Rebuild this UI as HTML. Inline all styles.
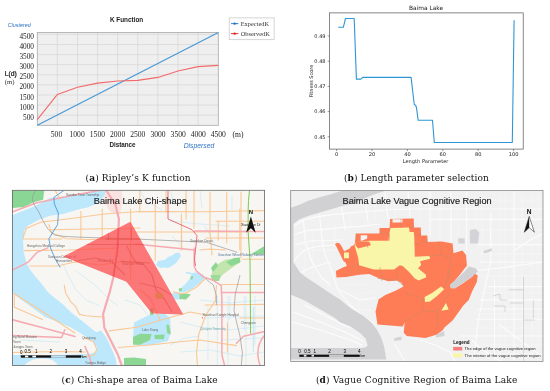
<!DOCTYPE html>
<html><head><meta charset="utf-8">
<style>
html,body{margin:0;padding:0;background:#fff;}
body{width:550px;height:391px;position:relative;overflow:hidden;}
.cap{position:absolute;font-family:"DejaVu Serif","Liberation Serif",serif;font-size:9px;color:#111;white-space:nowrap;line-height:1;}
.cap b{font-weight:bold;}
svg{position:absolute;left:0;top:0;}
</style></head><body>

<!-- Panel (a): K function chart -->
<svg width="550" height="391" viewBox="0 0 550 391" style="left:0;top:0">
  <!-- plot background -->
  <rect x="37.3" y="32.4" width="181" height="92.9" fill="#efefef"/>
  <g stroke="#d3d3d3" stroke-width="0.65">
    <line x1="57.4" y1="32.4" x2="57.4" y2="125.3"/>
    <line x1="77.5" y1="32.4" x2="77.5" y2="125.3"/>
    <line x1="97.6" y1="32.4" x2="97.6" y2="125.3"/>
    <line x1="117.7" y1="32.4" x2="117.7" y2="125.3"/>
    <line x1="137.8" y1="32.4" x2="137.8" y2="125.3"/>
    <line x1="157.9" y1="32.4" x2="157.9" y2="125.3"/>
    <line x1="178" y1="32.4" x2="178" y2="125.3"/>
    <line x1="198.1" y1="32.4" x2="198.1" y2="125.3"/>
    <line x1="37.3" y1="115.2" x2="218.3" y2="115.2"/>
    <line x1="37.3" y1="105.1" x2="218.3" y2="105.1"/>
    <line x1="37.3" y1="95" x2="218.3" y2="95"/>
    <line x1="37.3" y1="84.9" x2="218.3" y2="84.9"/>
    <line x1="37.3" y1="74.8" x2="218.3" y2="74.8"/>
    <line x1="37.3" y1="64.7" x2="218.3" y2="64.7"/>
    <line x1="37.3" y1="54.6" x2="218.3" y2="54.6"/>
    <line x1="37.3" y1="44.5" x2="218.3" y2="44.5"/>
    <line x1="37.3" y1="34.4" x2="218.3" y2="34.4"/>
  </g>
  <rect x="37.3" y="32.4" width="181" height="92.9" fill="none" stroke="#a8a8a8" stroke-width="0.8"/>
  <polyline points="37.3,125.3 218.3,32.4" fill="none" stroke="#4597d5" stroke-width="1.1"/>
  <polyline points="37.3,119.6 57.4,94.4 77.5,87.3 97.6,83.1 117.7,81 137.8,80.4 157.9,77.4 178,71 198.1,66.6 218.3,65.4" fill="none" stroke="#f26a6a" stroke-width="1.1" stroke-linejoin="round"/>
  <!-- y labels -->
  <g font-family="Liberation Serif, serif" font-size="7.3" fill="#222" text-anchor="end">
    <text x="34" y="38.9">4500</text>
    <text x="34" y="49.0">4000</text>
    <text x="34" y="59.1">3500</text>
    <text x="34" y="69.2">3000</text>
    <text x="34" y="79.3">2500</text>
    <text x="34" y="89.4">2000</text>
    <text x="34" y="99.5">1500</text>
    <text x="34" y="109.6">1000</text>
    <text x="34" y="119.7">500</text>
  </g>
  <g font-family="Liberation Serif, serif" font-size="7.6" fill="#222" text-anchor="middle">
    <text x="56.5" y="136.8">500</text>
    <text x="77.1" y="136.8">1000</text>
    <text x="97.4" y="136.8">1500</text>
    <text x="117.6" y="136.8">2000</text>
    <text x="137.8" y="136.8">2500</text>
    <text x="158" y="136.8">3000</text>
    <text x="178.2" y="136.8">3500</text>
    <text x="198.3" y="136.8">4000</text>
    <text x="218.3" y="136.8">4500</text>
    <text x="238" y="136.8">(m)</text>
  </g>
  <text x="4.8" y="76.4" font-family="Liberation Sans, sans-serif" font-size="6.8" fill="#111" stroke="#111" stroke-width="0.2">L(d)</text>
  <text x="4.8" y="84" font-family="Liberation Serif, serif" font-size="6.8" fill="#333">(m)</text>
  <text x="126.6" y="21.8" font-family="Liberation Sans, sans-serif" font-size="6.4" font-weight="bold" fill="#222" text-anchor="middle">K Function</text>
  <text x="7.7" y="26.6" font-family="Liberation Sans, sans-serif" font-size="5.4" font-style="italic" fill="#2f73c4">Clustered</text>
  <text x="122.5" y="147.3" font-family="Liberation Sans, sans-serif" font-size="6.3" font-weight="bold" fill="#222" text-anchor="middle">Distance</text>
  <text x="199" y="148" font-family="Liberation Sans, sans-serif" font-size="6.8" font-style="italic" fill="#2f73c4" text-anchor="middle">Dispersed</text>
  <!-- legend -->
  <rect x="229.2" y="17.9" width="44.9" height="21.8" fill="#fff" stroke="#c4c4c4" stroke-width="0.7"/>
  <line x1="231" y1="23.6" x2="238.4" y2="23.6" stroke="#3d8fd1" stroke-width="1.1"/>
  <circle cx="234.7" cy="23.6" r="1.2" fill="#1f6fc0"/>
  <line x1="231" y1="33.6" x2="238.4" y2="33.6" stroke="#f04040" stroke-width="1.1"/>
  <circle cx="234.7" cy="33.6" r="1.2" fill="#e02020"/>
  <text x="240.7" y="25.9" font-family="Liberation Serif, serif" font-size="6.4" fill="#333">ExpectedK</text>
  <text x="240.7" y="35.9" font-family="Liberation Serif, serif" font-size="6.4" fill="#333">ObservedK</text>

  <!-- Panel (b) -->
  <text x="426" y="9.8" font-family="DejaVu Sans, sans-serif" font-size="5.9" fill="#222" text-anchor="middle">Baima Lake</text>
  <polyline points="338.2,27.3 343.3,27.3 345.5,18.5 354.2,18.5 356.4,79.1 360.9,79.1 362.7,77.3 411.1,77.4 413.5,98 414.3,104.5 415.8,105.5 416.5,108 418.2,120.3 432.5,120.3 434.3,142.5 512.3,142.5 514.1,20.3" fill="none" stroke="#2f96d4" stroke-width="1.1" stroke-linejoin="round"/>
  <rect x="329.6" y="12.9" width="193.6" height="136.2" fill="none" stroke="#555" stroke-width="0.7"/>
  <g stroke="#555" stroke-width="0.6">
    <line x1="327.6" y1="36" x2="329.6" y2="36"/>
    <line x1="327.6" y1="61.2" x2="329.6" y2="61.2"/>
    <line x1="327.6" y1="86.4" x2="329.6" y2="86.4"/>
    <line x1="327.6" y1="111.6" x2="329.6" y2="111.6"/>
    <line x1="327.6" y1="136.8" x2="329.6" y2="136.8"/>
    <line x1="336.6" y1="149.1" x2="336.6" y2="151.1"/>
    <line x1="372" y1="149.1" x2="372" y2="151.1"/>
    <line x1="407.4" y1="149.1" x2="407.4" y2="151.1"/>
    <line x1="442.8" y1="149.1" x2="442.8" y2="151.1"/>
    <line x1="478.2" y1="149.1" x2="478.2" y2="151.1"/>
    <line x1="513.6" y1="149.1" x2="513.6" y2="151.1"/>
  </g>
  <g font-family="DejaVu Sans, sans-serif" font-size="5" fill="#222" text-anchor="end">
    <text x="325.5" y="37.8">0.49</text>
    <text x="325.5" y="63">0.48</text>
    <text x="325.5" y="88.2">0.47</text>
    <text x="325.5" y="113.4">0.46</text>
    <text x="325.5" y="138.6">0.45</text>
  </g>
  <g font-family="DejaVu Sans, sans-serif" font-size="5.1" fill="#222" text-anchor="middle">
    <text x="336.6" y="155.9">0</text>
    <text x="372" y="155.9">20</text>
    <text x="407.4" y="155.9">40</text>
    <text x="442.8" y="155.9">60</text>
    <text x="478.2" y="155.9">80</text>
    <text x="513.6" y="155.9">100</text>
    <text x="425.6" y="163.3">Length Parameter</text>
  </g>
  <text transform="translate(312.8 81.1) rotate(-90)" font-family="DejaVu Sans, sans-serif" font-size="5" fill="#222" text-anchor="middle">Fitness Score</text>
</svg>

<div class="cap" style="left:85.6px;top:173.7px;letter-spacing:0.13px">(<b>a</b>) Ripley’s K function</div>
<div class="cap" style="left:344px;top:173.7px;letter-spacing:0.06px">(<b>b</b>) Length parameter selection</div>
<div class="cap" style="left:61.6px;top:375.8px;letter-spacing:0.12px">(<b>c</b>) Chi-shape area of Baima Lake</div>
<div class="cap" style="left:315.9px;top:375.8px;letter-spacing:0.2px">(<b>d</b>) Vague Cognitive Region of Baima Lake</div>

<!-- MAP C -->
<svg id="mapc" width="550" height="391" viewBox="0 0 550 391">
  <defs><clipPath id="cc"><rect x="12" y="190.4" width="252.6" height="175"/></clipPath></defs>
  <g clip-path="url(#cc)">
    <rect x="12" y="190" width="253" height="176" fill="#f7f6f2"/>
    <!-- green top-left -->
    <path d="M12,190 L44.3,190 L43.1,199.8 L33.6,202.2 L24.2,206.9 L12,208 Z" fill="#8ad694"/>
    <!-- thin water channels (light blue) -->
    <g fill="none" stroke="#c8e9f8" stroke-width="0.7">
      <path d="M62,262 L68,275 L76,290 L86,300 L100,306"/>
      <path d="M75,270 L95,285 L110,300 L118,306"/>
      <path d="M150,203 L162,210"/>
      <path d="M170,221 L200,224 L230,226"/>
      <path d="M200,300 L230,303 L264,300"/>
      <path d="M180,322 L200,327 L230,330 L264,326"/>
      <path d="M118,255 L132,270 L140,285 L148,300"/>
      <path d="M25,300 L60,314"/>
      <path d="M20,340 L60,342"/>
      <path d="M205,226 L215,245"/>
      <path d="M180,352 L210,350 L240,356 L264,352"/>
      <path d="M172,236 L185,250"/>
      <path d="M125,300 L140,305 L150,318"/>
      <path d="M170,345 L185,338 L200,336"/>
      <path d="M246,296 L246,367 M255,296 L255,345 M228,296 L228,367 M208,306 L208,360"/>
      <path d="M140,190 L145,200 M170,190 L175,205 M200,190 L202,208 M232,195 L232,210"/>
      <path d="M253.4,307 L253.4,352" stroke-width="1.3"/>
      <path d="M217.4,296 L217.4,366 M229.8,296 L229.8,320 M244.4,296 L244.4,330 M205,318 L264,316 M222,340 L264,338"/>
    </g>
    <!-- lakes -->
    <path d="M158,261 L164.5,260 L168,257 L172,255.5 L176,252.7 L179.5,252.7 L181,256 L178,260 L176,263 L172,266 L168,268 L164,267.5 L160,268 L156,265 Z" fill="#bde7fb"/>
    <path d="M192,273 L196,272.5 L203,274.5 L204.1,278.5 L198.6,284 L192,289 L185.4,291.7 L180.5,292.8 L179.4,289.5 L181,287.9 L185.4,284 L189.8,278.5 Z" fill="#bde7fb"/><path d="M172,293 L180,292.5 L181,299.4 L174,299.4 Z" fill="#bde7fb"/><path d="M185.4,271.4 L192,273 L191,274.5 L186,273.5 Z" fill="#bde7fb"/>
    
    <path d="M134,322.6 L145,317 L151.6,314.3 L164.5,313.4 L170,318 L171,331.8 L168,341 L150,345 L136.8,345.5 L133.1,337.4 Z" fill="#bde7fb"/>
    <!-- green parks -->
    <path d="M211.2,276 L213.6,266.6 L225.5,259.4 L239.8,258.2 L241,261.8 L230.2,269 L216,279.9 Z" fill="#c2e6ad"/>
    <path d="M226,262 L234,258 L240,257.5 L240,262.5 L231,266 Z" fill="#8cd793"/>
    <path d="M211,268 L216,262 L218,266 L213,272 Z" fill="#8cd793"/>
    <path d="M179.4,294 L186,293.4 L190.9,294.5 L186,299.4 L179.6,299 Z" fill="#8cd793"/><path d="M178.8,288.5 L182,288 L181.5,291.5 L178.8,291 Z" fill="#8cd793"/><path d="M190.9,276.3 L193.1,276 L192.5,279.6 L190.6,279.6 Z" fill="#8cd793"/>
    <path d="M210.6,275 L221.2,275 L219,281 L212,281 Z" fill="#9fda98"/>
    <path d="M133,337 L140,333.7 L151.6,334 L150,340 L140,344.7 L133,344.7 Z" fill="#8cd793"/>
    <path d="M154.3,335 L164.5,334.6 L164,339.2 L155,339 Z" fill="#8cd793"/>
    <path d="M166.3,324.5 L169,325 L170.9,334.6 L167,333 Z" fill="#8cd793"/>
    <path d="M124,358 L134,357.6 L146,359 L146,367 L124,367 Z" fill="#8cd793"/>
    
    <path d="M250,254.5 L258,250 L264.4,246 L264.4,254.5 Z" fill="#8cd793"/>
    <path d="M149.7,309 L153.4,308 L153,315.3 L150,315 Z" fill="#8cd793"/>
    <!-- river -->
    <path d="M12,215.2 L24.2,210.5 L36,205.7 L50,198 L62.7,196.5 L75.4,194.2 L88.2,192.6 L104.7,190.6 L106,190 L110,190 L107,193 L103,197.5 L99,201.5 L94.5,204.8 L87.3,207.6 L80,209.1 L62.7,214.1 L50,215.8 L38.4,219.9 L27.7,225.8 L24.5,230 L23.1,240.7 L23.6,251.5 L26.3,262.2 L29.9,269.4 L35.3,276.5 L41,283 L46.5,290.5 L51.4,295.2 L57.8,300.3 L64.2,305.5 L70.6,311.9 L77,317 L83.4,322.1 L89.8,327.2 L96.2,332.3 L101,330.5 L106,337 L111.2,347.9 L115.6,358.1 L117,367 L12,367 L12,355 L52,355 L90,354 L96,352 L97,347 L92,341 L83.4,335 L78.2,331.7 L70.6,327.2 L57.8,322.1 L45,317 L30,306 L13.5,294 L12,293 Z" fill="#bde7fb"/>
    <path d="M24,366 C28,360 36,358.5 45,358.6 C52,358.8 56,362 58,366 Z" fill="#f7f6f2"/>
    <path d="M106,190 L122,190 L122.2,203.5 L120,214.7 L110,212 L106,205 L104,197 Z" fill="#f9e3e1"/>
    <!-- orange roads -->
    <g fill="none" stroke="#f9c896" stroke-width="1.1" stroke-linecap="round" stroke-linejoin="round">
      <path d="M23,237.6 L26.5,228.2 L40.7,222.3 L69,218.7 L104.6,214 L140,211.5 L205,211.8 L266,210.6"/>
      <path d="M49,224.6 L51.4,233 L66.7,238.8 L88,239.5 L140,238.8"/>
      <path d="M51.4,229.7 L88,229 L120,228.5 L140,228"/>
      <path d="M23,239 L62,239"/>
      <path d="M24.2,250.6 L69,250 L95,249 L117,248"/>
      <path d="M80.9,211.6 L80.9,238.8"/>
      <path d="M102.2,209 L102.2,239"/>
      <path d="M130.6,209 L130.6,280"/>
      <path d="M139.8,190 L139.8,212"/>
      <path d="M166,190 L166,212"/>
      <path d="M181.6,219 L181.6,248"/>
      <path d="M210,192 L210,232 L212,255"/>
      <path d="M226.7,192 L226.7,243"/>
      <path d="M241,192 L241,258"/>
      <path d="M135,232 L244.5,232"/>
      <path d="M216,221.3 L266,221.3"/>
      <path d="M30,266 L57,266 L75,262"/>
      <path d="M64.2,285 L65.5,292.7 L70.6,301.6 L75.7,306.7 L79.5,314.4 L85.9,315.7 L102.5,317"/>
      <path d="M75,262 L100,265 L120,262 L140,262"/>
      <path d="M109.2,330.9 L136.8,327.2 L164.5,319 L190,312 L205.9,315"/>
      <path d="M118.4,347.5 L150,345 L177.3,342 L200,340 L236.5,345.6"/>
      <path d="M216.5,285.6 L215.3,300.9 L205.9,315 L198.8,333.8 L196.5,352.6 L197.6,367"/>
      <path d="M205,305 L266,304.4"/>
      <path d="M227.5,323 L227.5,352"/>
      <path d="M85,337.7 L93.7,342 L96.7,349.4 L93.7,355.2 L85,356.6"/>
      <path d="M12,352.5 L60,351.5 L85,352"/>
      <path d="M14.3,293.8 L14.3,307.3 L42.4,319.6"/><path d="M14.3,293.8 L40,310 L75,333"/>
      
      <path d="M55,190 L60,199"/>
      <path d="M140,290 L150,298 L160,320"/>
      <path d="M240,318 L266,318"/>
      <path d="M242.7,259.2 L266,259.2"/>
      <path d="M206,238 L266,238"/>
      <path d="M155.2,202 L155.2,260"/>
      <path d="M181.4,214 L181.4,250"/>
      <path d="M218.3,221 L218.3,240"/>
      <path d="M239.8,209 L239.8,250"/>
      <path d="M221.9,284.5 L266,284.5"/>
      <path d="M200,250 L210,249 L225,250"/>
      <path d="M194,190 L194,228"/>
      <path d="M186.1,190 L186.1,219"/>
      <path d="M173.3,291.7 L181,293.9 L186.5,292.8 L196.4,287.3 L205.2,278.5"/>
    </g>
    <!-- pink major roads -->
    <g fill="none" stroke="#f6aab2" stroke-width="1.5" stroke-linecap="round" stroke-linejoin="round">
      <path d="M12,212 L24.2,207.5 L36,203 L57.3,198.5 L80.9,193.8 L105,189.5"/>
      
      
      <path d="M194.5,230.9 L266,231.5"/>
      <path d="M194.2,248 L194.2,266.5 L196.5,271.1 L204.2,277.3 L213.4,280.3 L221.2,285.6 L221.9,300 L221.9,355 L225,367"/>
      <path d="M221.9,292.6 L266,292.6"/>
      <path d="M12,270.3 L28.1,262.2 L37,252.4 L47.8,247.9"/>
      <path d="M12,319.6 L40,327 L75,336.5"/>
      <path d="M12,335.4 L61.5,337.6 L64.9,329.8"/>
      
      <path d="M85,346.4 L89.4,356.6 L92.3,367"/>
      <path d="M106,190 L115.5,205 L118.9,219 L117.7,246 L113.2,278 L109.9,291.5 L106.5,302.8 L103.1,314 L104.3,327.5 L111,341 L117.8,354.5 L122.3,367" stroke-width="2.2"/>
      <path d="M236.5,343.2 L243.5,336.2 L264.7,331.5"/>
      <path d="M264,336 C259,342 257.5,350 258,356 C258.5,361 259.5,364 260.5,367"/>
      <path d="M135,244 L194.5,249.9"/>
      
    </g>
    <!-- rail -->
    <path d="M35.4,190.4 L32.2,197.5 L33.8,203.9 L38.6,211.8 L43.3,221.3 L48.1,229.3 L54.4,234.8 L64,236.4 L80,237.2 L140,239.2 L206.4,242.3 L230,250 L237.4,252.3" fill="none" stroke="#9a9a9a" stroke-width="0.7"/>
    <path d="M205.7,278.8 L213.4,285 L216.4,295.7 L216.4,305" fill="none" stroke="#9a9a9a" stroke-width="0.7"/>
    <path d="M240,275 L235.3,293.8 L234,310.3 L236.5,322 L240,336.2 L242.4,352.6 L241.2,367" fill="none" stroke="#9a9a9a" stroke-width="0.7"/>
    <!-- metro lines -->
    <path d="M168,190 L168,219 L192,229.7 L197,235.6 L194.5,259.4 L195.5,266" fill="none" stroke="#e5505e" stroke-width="0.8"/>
    <path d="M249.5,190 C247.5,205 248.5,215 248,230 L250,260 L250.6,333.8" fill="none" stroke="#7cc850" stroke-width="1"/>
    <path d="M64,190.4 L53.7,197.5 L54.4,203.9 L58.4,213.4 L57.6,224.5 L48.9,238.8 L50.5,247.9 L55,258.6 L60.3,267.6" fill="none" stroke="#3b8fd6" stroke-width="0.8"/>
    <!-- small labels -->
    <g font-family="Liberation Sans, sans-serif" font-size="3.2" fill="#666">
      <text x="66" y="195.5">Sandun Town Township</text>
      <text x="27" y="247">Hangzhou Medical College</text>
      <text x="48" y="258">Xianjuan College of</text>
      <text x="56" y="262">Humanities</text>
      <text x="202.4" y="315.5">Xiaoshan Kangle Hospital</text>
      <text x="200" y="330.3" fill="#7aa">Qiaoyan Township</text>
      <text x="240.7" y="323.7">Chengnan</text>
      <text x="218" y="256" fill="#56739a">Xiaoshan Wharf Railway Station</text>
      <text x="13" y="338">ng Build Shaoxin</text>
      <text x="13" y="343">Town</text>
      <text x="13" y="348">Jiangpu Town</text>
      <text x="82" y="339">Qianjiang</text>
      <text x="85" y="364">Yuanpu Bridge</text>
      <text x="142" y="331">Lake Xiang</text>
      <text x="190" y="241.5">Xiaoshan Daoju</text>
      <text x="97.6" y="261.8">Shuibei Rd</text>
      <text x="121.8" y="265">Xiaoshan Road</text>
    </g>
    <!-- red chi-shape polygon -->
    <path d="M63.2,256.6 L130.4,221.7 L183.3,314.5 L152,313.5 L126.4,281.8 Z" fill="#fe4c4d" fill-opacity="0.75"/>
    <clipPath id="cpoly"><path d="M63.2,256.6 L130.4,221.7 L183.3,314.5 L152,313.5 L126.4,281.8 Z"/></clipPath>
    <g clip-path="url(#cpoly)" fill="none" stroke="#e04848" stroke-opacity="0.45" stroke-width="1.2" stroke-linejoin="round">
      <path d="M118.4,220 L117.6,250.7 L113,280"/>
      <path d="M60,244.5 L150,244.5"/>
      <path d="M105.3,239.2 L140.6,239.2"/>
      <path d="M126.8,246 L131.4,255.3 L136,263 L143.7,264.5 L152,275 L156,290 L165,300 L172,312"/>
      <path d="M120.7,261.4 L150,263"/>
      <path d="M108.4,230.7 L108.4,240 M131.4,228 L131.4,240"/>
      <path d="M70,262 L95,258 L112,262 L125,275"/>
      <path d="M140,283 L160,288 L180,300"/>
    </g>
    <ellipse cx="159.2" cy="295.8" rx="4" ry="3.3" fill="#e47a4e" opacity="0.95"/>
    
    <circle cx="202.4" cy="317.8" r="0.6" fill="#e33"/>
    <!-- title -->
    <text x="93.8" y="203.8" font-family="Liberation Sans, sans-serif" font-size="9.2" fill="#1a1a1a" stroke="#1a1a1a" stroke-width="0.15">Baima Lake Chi-shape</text>
    <!-- north arrow -->
    <text x="250.9" y="214.3" font-family="Liberation Sans, sans-serif" font-size="6" font-weight="bold" fill="#111" text-anchor="middle">N</text>
    <path d="M250.9,216.5 L246.1,232.7 L250.9,228.2 L255.7,232.7 Z" fill="#111"/>
    <text x="241" y="226" font-family="Liberation Sans, sans-serif" font-size="3.6" fill="#222">Xiaoshan Di</text>
    <!-- scale bar -->
    <g font-family="Liberation Sans, sans-serif" font-size="4.5" fill="#000">
      <text x="20.1" y="353.5">0</text><text x="24.5" y="353.3">0.5</text><text x="34.9" y="353.3">1</text>
      <text x="49.4" y="353.3">2</text><text x="64.7" y="353.3">3</text><text x="79.3" y="353.3">4</text>
      <text x="81.8" y="357.8" font-size="3.6">km</text>
    </g>
    <rect x="21" y="355.5" width="60.1" height="2" fill="#fff" stroke="#111" stroke-width="0.4"/>
    <rect x="21" y="355.5" width="4" height="2" fill="#111"/>
    <rect x="28.3" y="355.5" width="4" height="2" fill="#111"/>
    <rect x="36" y="355.5" width="15.3" height="2" fill="#111"/>
    <rect x="51.3" y="355.5" width="14.5" height="2" fill="#bde7fb"/>
    <rect x="65.8" y="355.5" width="15.3" height="2" fill="#111"/>
  </g>
  <rect x="12.4" y="190.3" width="252.2" height="175.1" fill="none" stroke="#666" stroke-width="0.8"/>
</svg>

<!-- MAP D -->
<svg id="mapd" width="550" height="391" viewBox="0 0 550 391">
  <defs><clipPath id="cd"><rect x="290.7" y="190.4" width="252.3" height="171"/></clipPath></defs>
  <g clip-path="url(#cd)">
    <rect x="290" y="190" width="254" height="172" fill="#f1f1f1"/>
    <!-- white road network -->
    <g fill="none" stroke="#fcfcfc" stroke-width="1.1" stroke-linecap="round" stroke-linejoin="round">
      <path d="M295.1,225.3 L303.3,220.2 L317.6,216.6 L331.9,214.6 L361,212 L390,209.5 L420,209 L543,209"/>
      <path d="M295.1,234.5 L307.4,230.4 L323.7,229.4 L342.1,227.4 L361,226.4 L380,224"/>
      <path d="M295.1,244.8 L311.4,240.7 L327.8,240.7 L342.1,239.7"/>
      <path d="M293,262.1 L300,254 L307.4,248.9 L320,246 L336,245"/>
      <path d="M319.6,215 L321,230 L323.7,250.9 L331.9,271.3 L338,290 L350,305 L365,318 L375,324"/>
      <path d="M303.3,220.2 L305.3,240.7 L311.4,261.1 L321.7,277.5 L330,285"/>
      <path d="M296,275 L310,268 L330,262"/>
      <path d="M340,200 L343,215 L345,230"/>
      <path d="M365,199 L368,222"/>
      <path d="M385,193 L388,219"/>
      <path d="M408,190 L410,218"/>
      <path d="M451,190 L451,241"/>
      <path d="M466.7,190 L466.7,250"/>
      <path d="M490.8,213 L490.8,262 L486.4,280.4 L482.3,300.9 L478.2,321.3 L476.1,340 L474,361"/>
      <path d="M494.5,280 L494.5,361"/>
      <path d="M514,190 L514,361"/>
      <path d="M430,219.4 L543,219.4"/>
      <path d="M478,244.6 L543,244.6"/>
      <path d="M480,262 L543,262"/>
      <path d="M488,286.6 L543,286.6"/>
      <path d="M480,299.9 L543,299.9"/>
      <path d="M478,309 L543,309"/>
      <path d="M476,319.3 L543,319.3"/>
      <path d="M460,336 L543,336"/>
      <path d="M472,271 L500,268 L543,262"/>
      <path d="M472,340 L480,348 L500,361"/>
      <path d="M420,340 L435,345 L450,352 L455,361"/>
      <path d="M395,345 L405,361"/>
      <path d="M340,290 L360,300 L375,298"/>
      <path d="M292.3,311.8 L320,322 L345,332 L363.2,341.3"/>
      <path d="M292.3,322 L320,330 L350,340 L362,345"/>
      <path d="M305,305 L330,318 L350,328"/>
      <path d="M515,250 L530,240 L545,233"/>
      <path d="M500,325 L520,340 L540,355"/>
    </g>
    <g fill="none" stroke="#f8f8f8" stroke-width="0.5">
      <path d="M300,250 L340,250 M305,235 L305,270 M313,230 L313,275 M335,222 L335,250 M350,215 L350,233 M375,205 L375,222 M395,203 L395,218 M420,200 L420,227 M440,195 L440,241 M458,195 L458,236 M476,195 L476,228 M482,195 L482,262 M500,195 L500,361 M505,195 L505,361 M522,195 L522,361 M532,195 L532,361 M538,195 L538,361 M480,230 L543,230 M480,254 L543,254 M480,276 L543,276 M480,293 L543,293 M476,314 L543,314 M468,328 L543,328 M450,345 L543,345 M460,354 L543,354 M430,200 L543,200 M345,285 L372,285 M350,295 L375,292 M352,310 L372,310 M340,300 L345,320 M358,300 L360,322"/>
    </g>
    <path d="M523.5,276.7 L523.5,361 M533.3,300.6 L533.3,318 M509,289.8 L523.5,289.8 M493,296 L500,294 L500,300 L507,300 M494,306 L505,306 L505,312 M510,303 L523.5,303 M523.5,320 L535,320" fill="none" stroke="#c9c9cd" stroke-width="0.7"/>
    <path d="M430,190 L430,236" fill="none" stroke="#fcfcfc" stroke-width="1.1"/>
    <!-- darker blocks -->
    <g fill="#d4d4d8">
      <path d="M469.8,230 L476,229 L479.3,233 L478,243.6 L470,243.6 L469.8,238 Z"/>
      <path d="M458.3,238.3 L464.6,238.3 L464.6,243.6 L458.3,243.6 Z"/>
      <path d="M483.5,251 L491.8,248.3 L491.8,251 L484,253.5 Z"/>
      <path d="M394.3,338 L401.6,336.5 L401.6,340 L394.3,341 Z"/>
      <path d="M436,334 L444.4,331 L444.4,336 L436,337.5 Z"/>
    </g>
    <!-- river -->
    <path d="M290,208 L300,204.5 L308.9,200.5 L317.9,197.8 L330,194.5 L338.7,191.8 L344.2,190 L387,190 L382.3,191.8 L373.6,194.5 L360,200.5 L350,204 L341.4,206.3 L330,209.5 L317.9,213 L308.9,215.7 L300,218.9 L296.4,221.5 L293.5,224 L293.5,262.2 L299.7,272 L304.2,276 L317.4,284.8 L330.6,293.6 L340,299.5 L351,308.4 L362.1,314.9 L371.3,322.2 L376.8,329.6 L381.4,337.9 L384.2,347.1 L386,358.1 L386.5,359.5 L290,359.5 L290,348 L362,348 L366.5,347 L367.6,345.2 L365.8,338.8 L360.3,333.3 L351,326.8 L340,322.2 L335,317.9 L319.6,309 L304.2,300.2 L291,294.7 L290,294.5 Z" fill="#d1d1d4"/>
    <!-- vague region: edge (orange) -->
    <path d="M334.9,244.2 L337,242.8 L339.8,243.5 L342,247 L344.1,251.2 L349.7,248.4 L351.1,246.3 L353.2,245.6 L354.6,244.2 L355.3,240 L356,233.6 L379.5,233.6 L379.5,228 L389.5,228 L390.1,219.1 L413.7,218.5 L414,227.4 L420.8,227.4 L421.1,235.6 L427.3,235.6 L427.7,242.1 L441.9,241.6 L452.6,243.4 L453.5,253.3 L462.4,250.6 L466,255 L466.9,265.8 L464.2,269 L459.8,274.8 L453.5,281.9 L449.9,285.5 L454.4,288.2 L462.4,283.7 L472.3,276.5 L474,273 L477.7,275.6 L476.8,281.9 L472.3,290.9 L468.7,300 L463.3,305.5 L452.8,320.2 L444.5,327.5 L442.4,330.6 L436.1,334.8 L425.6,338 L406.8,335.9 L403.7,332.7 L404.7,322.3 L402.6,326.5 L377.5,324.4 L375.5,311.8 L378.6,299.3 L380.9,298 L385.3,295.1 L395.5,290.7 L403.5,286.4 L401.3,282.7 L396.9,280.5 L388.2,281.3 L379.5,278.4 L369.3,274 L359.1,274.7 L346,276.9 L336.5,277.6 L335.8,271.1 L344.5,266.7 L346.9,266 L345.5,262.5 L343.4,261 L336.3,246.3 Z" fill="#fe7c56"/>
    <path d="M469,266.5 L475,268 L478,271 L472,277 L463,283 L455,288.5 L450.5,288.3 L449.8,284.8 L456,279.5 L464,272 Z" fill="#d1d1d4"/>
    <!-- interior (yellow) -->
    <path d="M354.5,242.3 L369.3,240.7 L388.5,240.7 L389.3,234 L390.5,227.9 L409,227.4 L409.6,232.1 L413.7,232.1 L414.2,235 L414.8,256.7 L429.5,256.1 L430.2,258.7 L420,261.2 L421.2,265 L418,268.2 L425.7,274.6 L426.3,277.2 L418.7,280.4 L414.8,278.5 L409.1,272.1 L402.7,266 L399.8,265.3 L394,269.6 L373.6,269.6 L359.1,265.3 L358.2,258 L354.9,246.4 Z" fill="#f9f6a9"/>
    <path d="M355.3,241.5 L369.3,241.5 L370.9,245.2 L358.2,248.4 L355.3,245 Z" fill="#fe7c56"/>
    <path d="M344,252.6 L349,252.6 L349,258.2 L344,258.2 Z" fill="#f9f6a9"/>
    <path d="M441,286.5 L444.4,289 L437,296 L430,301.5 L425,302 L424.6,297 L432,293 Z" fill="#f9f6a9"/>
    <path d="M446,303 L448.6,309.5 L441.3,310.8 Z" fill="#f9f6a9"/>
    <!-- white notches -->
    <path d="M360.7,235.3 L367.2,235.3 L367.2,238.5 L362,240.7 L360.7,240.7 Z" fill="#f4f4f4"/>
    <path d="M392.5,219.2 L402.5,219.2 L402.5,222.6 L392.5,222.6 Z" fill="#f4f4f4"/>
    <!-- parcel lines -->
    <g fill="none" stroke="#c68c66" stroke-width="0.6" opacity="0.85" stroke-linejoin="round">
      <path d="M379.5,233.6 L389.5,233.6 M409,227.4 L414,227.4 M414,235 L421,235"/>
      <path d="M438.3,241.6 L441.9,255 L450.8,258.6 L449,276.5 L443.6,289"/>
      <path d="M428.4,256 L441.9,255"/>
      <path d="M396.4,270 L397.4,280.5 L403.7,285.7"/>
      <path d="M377.5,278.4 L396.4,280.5"/>
      <path d="M405.8,293 L423.5,299.3 L422.5,310.8 L404.7,321.2"/>
      <path d="M422.5,310.8 L437.1,311.8 L438.2,328.5"/>
      <path d="M437.1,311.8 L445.5,299.3 L450.7,290.9"/>
      <path d="M448.6,270 L446.5,282.5"/>
      <path d="M346,277 L355,264 M359,274.7 L358,265"/>
      <path d="M380,267 L382,281"/>
      <path d="M356,233.6 L356,241.5 M366,241.5 L368,248"/>
      <path d="M389.5,240.7 L389.5,234 M401,219 L401,227.9"/>
      <path d="M421,242 L428,242 M414.5,244 L421,244"/>
    </g>
    <!-- title -->
    <text x="342.6" y="203.6" font-family="Liberation Sans, sans-serif" font-size="9.16" fill="#1a1a1a" stroke="#1a1a1a" stroke-width="0.15">Baima Lake Vague Cognitive Region</text>
    <!-- north arrow -->
    <text x="529.2" y="214.4" font-family="Liberation Sans, sans-serif" font-size="6.6" font-weight="bold" fill="#111" text-anchor="middle">N</text>
    <path d="M529.2,216.4 L524.3,232.2 L529.2,227.6 L534.4,232.2 Z" fill="#fff" stroke="#111" stroke-width="0.5"/>
    <path d="M529.2,216.4 L524.3,232.2 L529.2,227.6 Z" fill="#111"/>
    <!-- legend -->
    <text x="453.2" y="343.6" font-family="Liberation Sans, sans-serif" font-size="4.6" font-weight="bold" fill="#111">Legend</text>
    <rect x="453.2" y="346.9" width="9.1" height="3.6" fill="#f77e7e"/>
    <rect x="453.2" y="353.4" width="9.1" height="3.8" fill="#f8f6a4"/>
    <text x="464.6" y="350.3" font-family="Liberation Sans, sans-serif" font-size="4.12" fill="#222">The edge of the vague cognitive region</text>
    <text x="464.6" y="357" font-family="Liberation Sans, sans-serif" font-size="4.19" fill="#222">The interior of the vague cognitive region</text>
    <!-- scale bar -->
    <g font-family="Liberation Sans, sans-serif" font-size="4.5" fill="#000">
      <text x="298.2" y="352.8">0</text><text x="304.3" y="352.6">0.5</text><text x="313.6" y="352.6">1</text>
      <text x="328.2" y="352.6">2</text><text x="343.4" y="352.6">3</text><text x="358" y="352.6">4</text>
      <text x="360.5" y="357.2" font-size="3.6">km</text>
    </g>
    <rect x="299.5" y="354.9" width="60.3" height="1.9" fill="#fff" stroke="#111" stroke-width="0.4"/>
    <rect x="299.5" y="354.9" width="4.3" height="1.9" fill="#111"/>
    <rect x="306.5" y="354.9" width="5" height="1.9" fill="#111"/>
    <rect x="314" y="354.9" width="15.3" height="1.9" fill="#111"/>
    <rect x="329.3" y="354.9" width="14.5" height="1.9" fill="#ccc"/>
    <rect x="343.8" y="354.9" width="16" height="1.9" fill="#111"/>
  </g>
  <rect x="290.7" y="190.4" width="252.3" height="171" fill="none" stroke="#8a8a8a" stroke-width="0.8"/>
</svg>

</body></html>
